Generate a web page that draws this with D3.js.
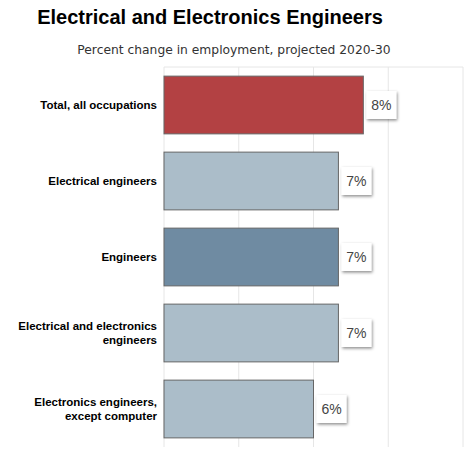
<!DOCTYPE html>
<html><head><meta charset="utf-8">
<script src="https://cdn.jsdelivr.net/npm/d3@7"></script>
<style>body{margin:0;background:#fff}text{font-family:Arial,"Liberation Sans",sans-serif}</style>
</head><body><svg id="c" width="474" height="462"></svg>
<script>
var categories = [['Total, all occupations'], ['Electrical engineers'], ['Engineers'], ['Electrical and electronics', 'engineers'], ['Electronics engineers,', 'except computer']];
var values = [8, 7, 7, 7, 6];
var colors = ['#b34143', '#abbdc9', '#6f8ba2', '#abbdc9', '#abbdc9'];
var gridTicks = [0, 3, 6, 9, 12];

var svg = d3.select('#c');
var pLeft = 164, pRight = 463, pTop = 67, pBottom = 447;
var x = d3.scaleLinear().domain([0, 12]).range([pLeft, pRight]);
var y = d3.scaleBand().domain(d3.range(values.length)).range([pTop, pBottom]).paddingInner(0.24).paddingOuter(0.12);

var defs = svg.append('defs');
var f = defs.append('filter').attr('id', 'sh').attr('x', '-30%').attr('y', '-30%').attr('width', '170%').attr('height', '170%');
f.append('feDropShadow').attr('dx', 1).attr('dy', 1.5).attr('stdDeviation', 1.5).attr('flood-color', '#000').attr('flood-opacity', 0.45);

svg.append('text').attr('x', 210).attr('y', 24).attr('text-anchor', 'middle')
    .style('font-size', '20px').style('font-weight', 'bold').text('Electrical and Electronics Engineers');
svg.append('text').attr('x', 234).attr('y', 54).attr('text-anchor', 'middle')
    .style('font-family', '"DejaVu Sans",sans-serif').style('font-size', '12.3px').attr('fill', '#333')
    .text('Percent change in employment, projected 2020-30');

svg.selectAll('line.grid').data(gridTicks).enter().append('line')
    .attr('x1', function(d) { return x(d); }).attr('x2', function(d) { return x(d); })
    .attr('y1', pTop).attr('y2', pBottom).attr('stroke', '#e6e6e6');
svg.append('line').attr('x1', pLeft).attr('x2', pRight).attr('y1', pTop).attr('y2', pTop).attr('stroke', '#e6e6e6');

svg.selectAll('rect.bar').data(values).enter().append('rect')
    .attr('x', x(0)).attr('y', function(d, i) { return y(i); })
    .attr('width', function(d) { return x(d) - x(0); }).attr('height', y.bandwidth())
    .attr('fill', function(d, i) { return colors[i]; }).attr('stroke', '#666').attr('stroke-width', 1);

var lab = svg.selectAll('g.lab').data(values).enter().append('g')
    .attr('transform', function(d, i) { return 'translate(' + (x(d) + 3) + ',' + (y(i) + y.bandwidth() / 2) + ')'; });
lab.append('rect').attr('x', 0).attr('y', -14).attr('width', 30).attr('height', 28).attr('fill', '#fff').attr('filter', 'url(#sh)');
lab.append('text').attr('x', 15).attr('y', 5).attr('text-anchor', 'middle').style('font-size', '14px').attr('fill', '#444')
    .text(function(d) { return d + '%'; });

svg.selectAll('text.cat').data(categories).enter().append('text')
    .attr('text-anchor', 'end').style('font-size', '11.5px').style('font-weight', 'bold')
    .attr('transform', function(d, i) { return 'translate(157,' + (y(i) + y.bandwidth() / 2 + 4 - (d.length - 1) * 7) + ')'; })
    .each(function(d) {
        var t = d3.select(this);
        d.forEach(function(s, k) { t.append('tspan').attr('x', 0).attr('dy', k ? 14 : 0).text(s); });
    });
</script></body></html>
